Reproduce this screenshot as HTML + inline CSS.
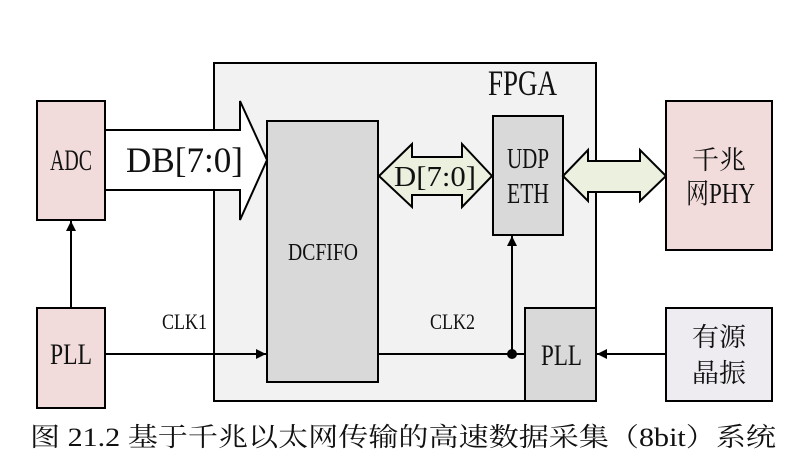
<!DOCTYPE html>
<html><head><meta charset="utf-8"><style>
html,body{margin:0;padding:0;background:#fff;}
svg{display:block;}
text{font-family:"Liberation Serif","Noto Serif CJK SC",serif;fill:#111;}
</style></head><body>
<svg width="800" height="459" viewBox="0 0 800 459" xmlns="http://www.w3.org/2000/svg">
<defs>
<marker id="ah" markerWidth="10" markerHeight="10" refX="10" refY="5" orient="auto" markerUnits="userSpaceOnUse" viewBox="0 0 10 10">
<path d="M0,0 L10,5 L0,10 Z" fill="#000"/></marker>
</defs>
<g stroke="#000" stroke-width="2">
<rect x="214" y="63" width="382" height="338" fill="#f2f2f2"/>
<rect x="37" y="101" width="68" height="119" fill="#f2dcdb"/>
<rect x="37" y="308" width="68" height="100" fill="#f2dcdb"/>
<path d="M105,130 L240,130 L240,101 L267,160 L240,220 L240,190 L105,190 Z" fill="#fff"/>
<rect x="267" y="121" width="111" height="261" fill="#d9d9d9"/>
<path d="M379,176 L412,144 L412,157 L462,157 L462,144 L492,176 L462,207 L462,195 L412,195 L412,207 Z" fill="#ebf1de"/>
<rect x="493" y="116" width="70" height="119" fill="#d9d9d9"/>
<path d="M563,176 L588,150 L588,161 L640,161 L640,150 L666,176 L640,201 L640,192 L588,192 L588,201 Z" fill="#ebf1de"/>
<rect x="666" y="101" width="106" height="149" fill="#f2dcdb"/>
<rect x="525" y="308" width="71" height="93" fill="#d9d9d9"/>
<rect x="666" y="308" width="106" height="93" fill="#eeecf1"/>
<line x1="71" y1="308" x2="71" y2="221" marker-end="url(#ah)"/>
<line x1="105" y1="354" x2="266" y2="354" marker-end="url(#ah)"/>
<line x1="378" y1="354" x2="525" y2="354"/>
<line x1="512" y1="354" x2="512" y2="236" marker-end="url(#ah)"/>
<line x1="666" y1="354" x2="597" y2="354" marker-end="url(#ah)"/>
</g>
<circle cx="512" cy="354" r="5" fill="#000"/>
<g lengthAdjust="spacingAndGlyphs">
<text x="488" y="95" font-size="36" textLength="69" lengthAdjust="spacingAndGlyphs">FPGA</text>
<text x="50" y="170" font-size="30" textLength="42" lengthAdjust="spacingAndGlyphs">ADC</text>
<text x="50" y="364" font-size="30" textLength="42" lengthAdjust="spacingAndGlyphs">PLL</text>
<text x="126" y="172" font-size="36" textLength="117" lengthAdjust="spacingAndGlyphs">DB[7:0]</text>
<text x="288" y="260" font-size="24" textLength="70" lengthAdjust="spacingAndGlyphs">DCFIFO</text>
<text x="394" y="186" font-size="29" textLength="82" lengthAdjust="spacingAndGlyphs">D[7:0]</text>
<text x="507" y="168" font-size="28" textLength="42" lengthAdjust="spacingAndGlyphs">UDP</text>
<text x="507" y="203" font-size="28" textLength="42" lengthAdjust="spacingAndGlyphs">ETH</text>
<text x="692" y="169" font-size="26" textLength="54" lengthAdjust="spacingAndGlyphs">千兆</text>
<text x="686" y="203" font-size="28" textLength="69" lengthAdjust="spacingAndGlyphs">网PHY</text>
<text x="541" y="365" font-size="30" textLength="41" lengthAdjust="spacingAndGlyphs">PLL</text>
<text x="692" y="346" font-size="26" textLength="54" lengthAdjust="spacingAndGlyphs">有源</text>
<text x="692" y="382" font-size="26" textLength="54" lengthAdjust="spacingAndGlyphs">晶振</text>
<text x="162" y="329" font-size="22" textLength="45" lengthAdjust="spacingAndGlyphs">CLK1</text>
<text x="430" y="329" font-size="22" textLength="45" lengthAdjust="spacingAndGlyphs">CLK2</text>
<text x="30" y="446" font-size="26" textLength="746" lengthAdjust="spacingAndGlyphs">图 21.2 基于千兆以太网传输的高速数据采集（8bit）系统</text>
</g>
</svg>
</body></html>
